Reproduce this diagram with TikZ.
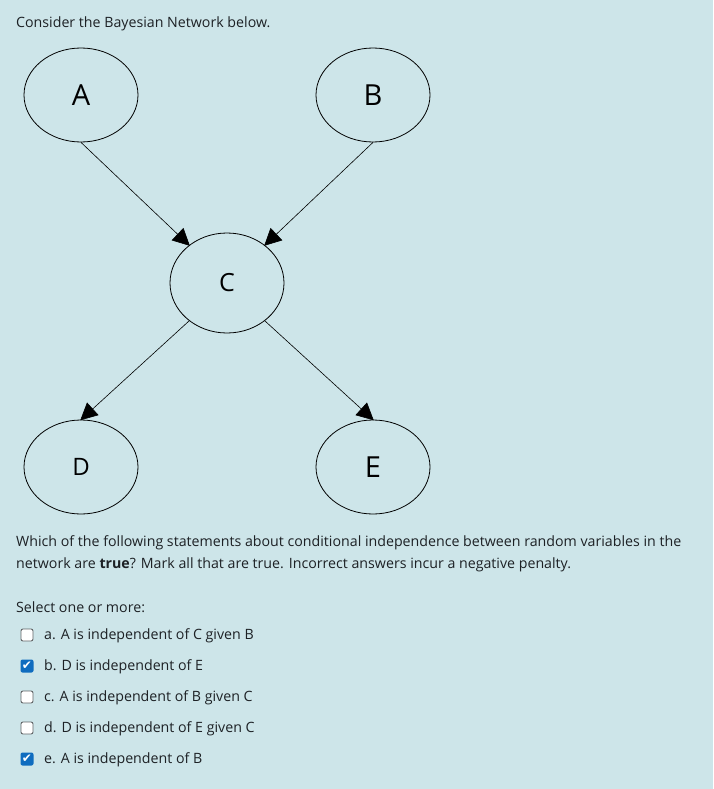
\documentclass[tikz,border=0pt]{standalone}
\usepackage{fontspec}
\setmainfont{Open Sans}
\newfontfamily\dejavu{DejaVu Sans}
\usetikzlibrary{shapes.geometric,arrows.meta}
\definecolor{bg}{HTML}{CDE5E9}
\definecolor{ink}{HTML}{1D2125}
\definecolor{chk}{HTML}{0F6CBF}
\tikzset{
 bn/.style={ellipse,draw=black,fill=bg,minimum width=114pt,minimum height=94pt,font=\fontsize{29}{34}\selectfont,text=black,inner sep=0pt,line width=0.8pt},
 edge/.style={-{Triangle[length=17pt,width=17pt]},black,line width=0.6pt,shorten >=-1pt},
 txt/.style={anchor=west,text=ink,font=\fontsize{14.2}{17}\selectfont,inner sep=0pt},
 box/.style={draw=ink!70,fill=white,rounded corners=2pt,minimum size=12pt,inner sep=0pt,line width=0.9pt},
 cbox/.style={fill=chk,rounded corners=2pt,minimum size=13pt,inner sep=0pt},
}
\begin{document}
\begin{tikzpicture}[x=1pt,y=-1pt]
\fill[bg] (0,0) rectangle (713,789);
\useasboundingbox (0,0) rectangle (713,789);
\node[txt] (t0) at (16,24) {Consider the Bayesian Network below.};
\node[bn] (A) at (81,95) {A};
\node[bn] (B) at (373,95) {B};
\node[bn,minimum width=114pt,minimum height=100pt,font=\fontsize{25}{30}\selectfont] (C) at (227,283) {C};
\node[bn,font=\fontsize{24}{30}\selectfont] (D) at (81,467) {D};
\node[bn] (E) at (373,467) {E};
\draw[edge] (A.south) -- (C.135);
\draw[edge] (B.south) -- (C.45);
\draw[edge] (C.225) -- (D.north);
\draw[edge] (C.-45) -- (E.north);
\node[txt] (t1) at (16,543) {Which of the following statements about conditional independence between random variables in the};
\node[txt] (t2) at (16,565) {network are \textbf{true}? Mark all that are true. Incorrect answers incur a negative penalty.};
\node[txt] (t3) at (16,607) {Select one or more:};
\node[box] (ba) at (27,635) {};
\node[cbox] (bb) at (27,666) {\textcolor{white}{\dejavu\fontsize{12}{12}\selectfont\bfseries ✔}};
\node[box] (bc) at (27,697) {};
\node[box] (bd) at (27,728) {};
\node[cbox] (be) at (27,759) {\textcolor{white}{\dejavu\fontsize{12}{12}\selectfont\bfseries ✔}};
\node[txt] (oa) at (44,636) {a. A is independent of C given B};
\node[txt] (ob) at (44,667) {b. D is independent of E};
\node[txt] (oc) at (44,698) {c. A is independent of B given C};
\node[txt] (od) at (44,729) {d. D is independent of E given C};
\node[txt] (oe) at (44,760) {e. A is independent of B};
\end{tikzpicture}
\end{document}
